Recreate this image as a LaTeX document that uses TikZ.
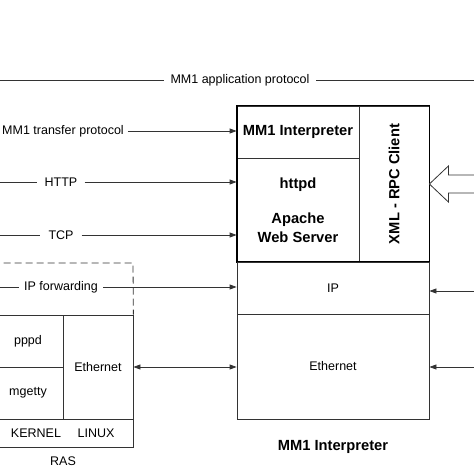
\documentclass[tikz,border=0pt]{standalone}
\usepackage{fontspec}
\setmainfont{Liberation Sans}
\usetikzlibrary{arrows.meta}

\begin{document}
\begin{tikzpicture}[x=1pt,y=1pt,
thin line/.style={line width=0.8pt,draw=black!80},
layer/.style={rectangle,thin line,inner sep=0pt,font=\fontsize{12.5}{14}\selectfont},
bold layer/.style={layer,font=\fontsize{14.7}{19}\selectfont\bfseries},
label/.style={fill=white,inner xsep=6pt,inner ysep=1pt,font=\fontsize{12.5}{14}\selectfont},
pointer/.style={thin line,-{Triangle[length=7pt,width=5pt]}},
both/.style={thin line,{Triangle[length=7pt,width=5pt]}-{Triangle[length=7pt,width=5pt]}}]

\useasboundingbox (0,0) rectangle (474,474);

% MM1 interpreter stack
\node[bold layer,minimum width=122pt,minimum height=52pt] (mmi) at (298,342) {MM1 Interpreter};
\node[bold layer,minimum width=122pt,minimum height=104pt,align=center] (httpd) at (298,264) {httpd\\[16pt]Apache\\Web Server};
\node[bold layer,minimum width=70pt,minimum height=156pt] (xml) at (394,290) {};
\node[rotate=90,font=\fontsize{14.7}{19}\selectfont\bfseries] (xmlname) at (xml) {XML - RPC Client};
\draw[line width=1.8pt] (mmi.north west) rectangle (xml.south east);
\node[layer,minimum width=192pt,minimum height=52pt] (ip) at (333,186) {IP};
\node[layer,minimum width=192pt,minimum height=105pt] (eth) at (333,107.5) {Ethernet};
\node[font=\fontsize{14.7}{19}\selectfont\bfseries] (title) at (333,27) {MM1 Interpreter};

% RAS
\node[layer,minimum width=70pt,minimum height=52pt] (pppd) at (28,133) {pppd};
\node[layer,minimum width=70pt,minimum height=52pt] (mgetty) at (28,81) {mgetty};
\node[layer,minimum width=70pt,minimum height=104pt] (raseth) at (98,107) {Ethernet};
\node[layer,minimum width=140pt,minimum height=28pt] (kernel) at (63,41) {};
\node[font=\fontsize{12.5}{14}\selectfont] (kname) at (36,41) {KERNEL};
\node[font=\fontsize{12.5}{14}\selectfont] (lname) at (96,41) {LINUX};
\node[font=\fontsize{12.5}{14}\selectfont] (ras) at (63,13) {RAS};
\coordinate (fwdcorner) at (133,211);
\draw[thin line,dash pattern=on 7pt off 4pt] (kernel.west |- fwdcorner) -- (fwdcorner) -- (raseth.north east);

% protocols
\coordinate (appL) at (0,394);
\coordinate (appR) at (474,394);
\draw[thin line] (appL) -- (appR);
\node[label,inner xsep=7pt] (app) at (240,394) {MM1 application protocol};

\node[label,inner xsep=4pt] (transfer) at (63,343) {MM1 transfer protocol};
\draw[pointer] (transfer.east) -- (transfer.east -| mmi.west);

\coordinate (httpL) at (0,292);
\node[label,inner xsep=7pt] (http) at (61,292) {HTTP};
\draw[thin line] (httpL) -- (http);
\draw[pointer] (http) -- (http -| httpd.west);

\coordinate (tcpL) at (0,239);
\node[label,inner xsep=8pt] (tcp) at (61,239) {TCP};
\draw[thin line] (tcpL) -- (tcp);
\draw[pointer] (tcp) -- (tcp -| httpd.west);

\coordinate (fwdL) at (0,187);
\node[label,inner xsep=5pt] (fwd) at (61,187) {IP forwarding};
\draw[thin line] (fwdL) -- (fwd);
\draw[pointer] (fwd) -- (fwd -| ip.west);

\draw[both] (raseth.east) -- (raseth.east -| eth.west);

% right side
\coordinate (ipR) at (474,183);
\draw[pointer] (ipR) -- (ipR -| ip.east);
\coordinate (ethR) at (474,107);
\draw[pointer] (ethR) -- (ethR -| eth.east);
\draw[thin line,fill=white] (xml.east) -- ++(19,18) -- ++(0,-9) -- ++(30,0) -- ++(0,-18) -- ++(-30,0) -- ++(0,-9) -- cycle;
\end{tikzpicture}
\end{document}
